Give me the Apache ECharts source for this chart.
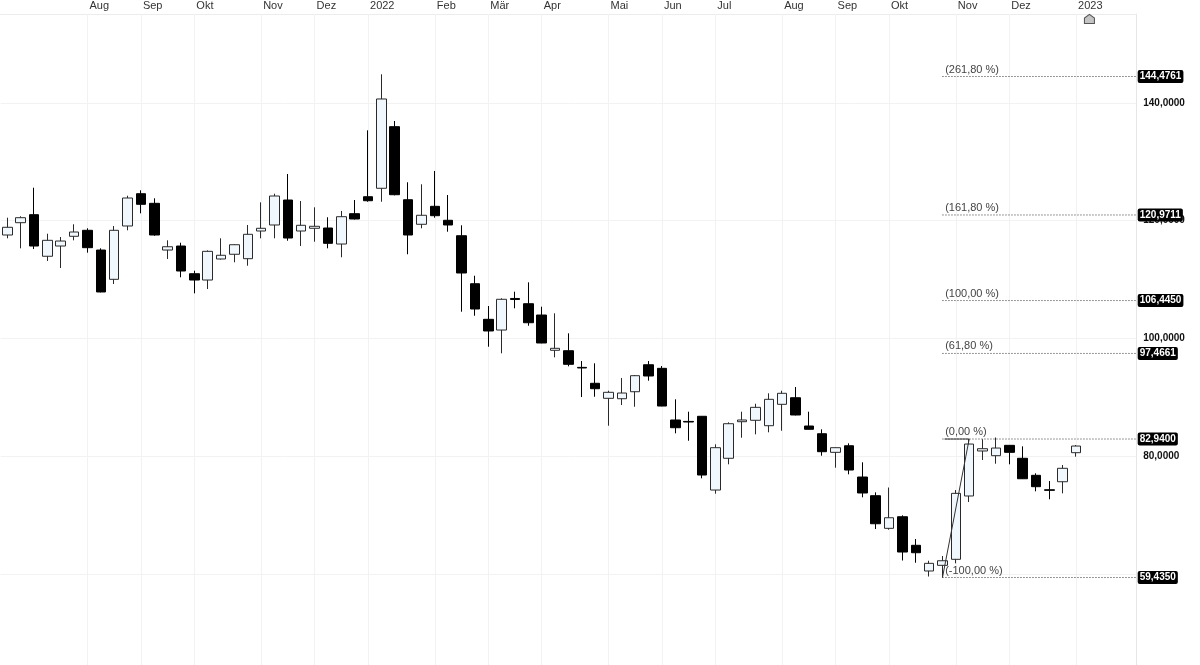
<!DOCTYPE html>
<html>
<head>
<meta charset="utf-8">
<script src="https://cdn.jsdelivr.net/npm/echarts@6/dist/echarts.min.js"></script>
<style>
  html, body { margin: 0; background: #fff; }
  #chart { width: 1200px; height: 665px; }
</style>
</head>
<body>
<div id="chart"></div>
<script>
// weekly candles, first week ends 2021-06-26
const opens  = [117.57,119.66,121.02,113.96,115.70,117.35,118.37,115.02,110.05,119.10,
                124.58,122.95,115.02,115.70,111.00,109.93,113.50,114.30,113.55,118.25,
                119.27,123.51,118.25,118.71,118.76,116.04,121.19,124.07,125.50,135.96,
                123.56,119.39,122.44,120.07,117.45,109.30,103.26,101.44,106.80,105.91,
                103.99, 98.00, 97.93, 95.10, 92.40, 89.85, 89.78, 90.97, 95.55, 94.94,
                 86.17, 85.93, 86.80, 74.28, 79.67, 85.88, 86.12, 85.20, 88.83, 89.95,
                 85.15, 83.84, 80.68, 81.80, 76.49, 73.32, 67.78, 69.75, 64.90, 60.54,
                 61.50, 62.52, 73.27, 80.91, 80.11, 81.87, 79.67, 76.78, 74.33, 75.69,
                 80.62]
const closes = [118.88,120.51,115.70,116.67,116.55,118.08,115.42,107.90,118.37,123.85,
                122.78,117.57,115.58,111.46,109.93,114.80,114.13,115.92,117.69,118.71,
                124.19,117.06,119.22,119.05,116.16,120.68,120.29,123.39,140.66,124.41,
                117.57,120.92,120.85,119.27,111.12,105.01,101.28,106.66,106.62,102.68,
                 99.24, 98.34, 95.62, 95.00, 91.48, 90.87, 90.75, 93.69, 93.64, 88.54,
                 84.86, 85.83, 76.83, 81.47, 85.54, 86.17, 88.32, 89.68, 90.70, 87.02,
                 84.59, 80.79, 81.47, 77.68, 73.78, 68.56, 69.58, 63.76, 63.64, 61.84,
                 62.28, 73.72, 82.09, 81.30, 81.41, 80.68, 76.20, 74.85, 74.23, 77.97,
                 81.75]
const lows   = [117.01,115.31,115.19,113.16,111.97,116.67,114.57,107.84,109.25,118.37,
                121.25,117.45,113.50,110.39,107.67,108.40,113.40,112.94,112.36,117.01,
                117.01,116.60,115.70,116.43,115.31,113.79,120.20,123.22,123.22,124.30,
                114.30,118.71,120.51,118.13,104.55,103.87, 98.61, 97.49,105.13,102.17,
                 99.19, 96.81, 95.28, 90.07, 90.12, 85.20, 88.71, 88.42, 92.84, 88.50,
                 83.91, 82.65, 76.27, 73.66, 78.65, 83.16, 83.74, 84.08, 84.35, 86.95,
                 84.55, 80.11, 78.07, 76.95, 73.05, 67.66, 67.55, 62.32, 61.94, 59.60,
                 59.435,61.84, 72.25, 79.38, 78.75, 78.65, 76.15, 74.06, 72.71, 73.72,
                 79.94]
const highs  = [120.51,120.75,125.60,117.79,117.23,119.39,118.71,115.31,119.10,124.24,
                125.16,123.80,116.67,116.26,111.51,114.97,117.01,116.00,119.27,123.12,
                124.58,127.93,123.34,122.27,120.58,121.65,123.51,135.34,144.85,136.92,
                126.52,126.18,128.44,124.36,119.22,110.66,105.52,106.83,107.95,109.54,
                105.40,104.28,100.88, 96.18, 95.79, 91.14, 93.30, 93.81, 96.18, 95.33,
                 89.68, 87.58, 86.85, 82.04, 85.78, 87.58, 88.93, 90.70, 91.14, 91.77,
                 87.58, 84.59, 81.50, 82.21, 78.99, 73.89, 74.71, 69.99, 65.97, 62.28,
                 63.08, 74.28, 82.94, 82.90, 83.20, 81.90, 81.70, 77.12, 75.81, 78.53,
                 81.92]

// month labels on the top axis: [week index, text]
const monthTicks = [[6, 'Aug'], [10, 'Sep'], [14, 'Okt'], [19, 'Nov'], [23, 'Dez'], [27, '2022'],
  [32, 'Feb'], [36, 'Mär'], [40, 'Apr'], [45, 'Mai'], [49, 'Jun'], [53, 'Jul'], [58, 'Aug'],
  [62, 'Sep'], [66, 'Okt'], [71, 'Nov'], [75, 'Dez'], [80, '2023']]

// price labels shown on the right axis
const priceTicks = [80, 100, 120, 140]

// fibonacci projection drawn from the low (week 70) to the high (week 72)
const fibLevels = [144.4761, 120.9711, 106.4450, 97.4661, 82.9400, 59.4350]
const fibNames = ['(261,80 %)', '(161,80 %)', '(100,00 %)', '(61,80 %)', '(0,00 %)', '(-100,00 %)']
const fibLowWeek = 70
const fibHighWeek = 72

const totalWeeks = 85
const categories = []
for (let i = 0; i < totalWeeks; i++) {
  const d = new Date(Date.UTC(2021, 5, 26 + i * 7))
  categories.push(d.toISOString().slice(0, 10))
}
const tickMap = {}
monthTicks.forEach(t => { tickMap[t[0]] = t[1] })

const fmt = v => v.toFixed(4).replace('.', ',')
const font = '"Liberation Sans", Arial, sans-serif'

const candles = opens.map((o, i) => [o, closes[i], lows[i], highs[i]])

const chart = echarts.init(document.getElementById('chart'), null, { renderer: 'canvas' })

const fibLines = fibLevels.map(l => ({
  type: 'line',
  xAxisIndex: 1,
  symbol: 'none',
  silent: true,
  z: 4,
  lineStyle: { color: '#333', width: 1, type: [1, 2] },
  data: [[fibLowWeek + 0.5, l], [totalWeeks, l]]
}))

chart.setOption({
  animation: false,
  backgroundColor: '#fff',
  textStyle: { fontFamily: font },
  grid: { left: 0.62, right: 63.8, top: 14, height: 678, outerBoundsMode: 'none' },
  xAxis: [
    {
      type: 'category',
      position: 'top',
      data: categories,
      boundaryGap: true,
      axisLine: { show: true, onZero: false, lineStyle: { color: '#ececec' } },
      axisTick: { show: false },
      splitLine: { show: false },
      axisLabel: {
        interval: (idx) => tickMap[idx] !== undefined,
        formatter: (val, idx) => tickMap[idx] || '',
        align: 'left',
        padding: [0, 0, 0, 2],
        margin: 3,
        fontSize: 11,
        color: '#333',
        fontFamily: font
      }
    },
    { type: 'value', min: 0, max: totalWeeks, show: false }
  ],
  yAxis: {
    type: 'value',
    position: 'right',
    min: 40,
    max: 155.085,
    interval: 20,
    axisLine: { show: true, onZero: false, lineStyle: { color: '#e6e6e6' } },
    axisTick: { show: false },
    splitLine: { lineStyle: { color: '#f2f2f2' } },
    axisLabel: {
      showMaxLabel: false,
      margin: 7,
      fontSize: 10,
      fontWeight: 'bold',
      color: '#111',
      fontFamily: font,
      formatter: v => (priceTicks.indexOf(v) >= 0 ? fmt(v) : '')
    }
  },
  series: [
    {
      type: 'candlestick',
      data: candles,
      barWidth: 10,
      z: 3,
      itemStyle: {
        color: '#f1f8fd',
        color0: '#000',
        borderColor: '#2a2a2a',
        borderColor0: '#000',
        borderWidth: 1
      },
      markLine: {
        silent: true,
        z: 1,
        symbol: 'none',
        label: { show: false },
        lineStyle: { color: '#f2f2f2', width: 1, type: 'solid' },
        data: monthTicks.map(t => ({ xAxis: t[0] }))
      }
    },
    ...fibLines,
    {
      type: 'line',
      xAxisIndex: 1,
      symbol: 'none',
      silent: true,
      z: 5,
      lineStyle: { color: '#333', width: 1 },
      data: [[fibLowWeek + 0.5, fibLevels[5]], [fibHighWeek + 0.5, fibLevels[4]]]
    },
    {
      type: 'line',
      xAxisIndex: 1,
      symbol: 'none',
      silent: true,
      z: 5,
      lineStyle: { color: '#333', width: 1 },
      data: [[fibLowWeek + 0.65, fibLevels[4]], [fibHighWeek + 0.5, fibLevels[4]]]
    },
    {
      type: 'scatter',
      xAxisIndex: 1,
      symbolSize: 1,
      clip: false,
      silent: true,
      z: 6,
      itemStyle: { color: 'rgba(0,0,0,0)', opacity: 1 },
      label: {
        show: true,
        position: 'top',
        align: 'left',
        distance: 1,
        fontSize: 11,
        color: '#444',
        opacity: 1,
        fontFamily: font
      },
      data: fibLevels.map((l, i) => ({
        value: [fibLowWeek + 0.7, l],
        label: { formatter: fibNames[i] }
      })),
      markPoint: {
        silent: true,
        symbol: 'path://M5,0 L10,4 L10,10 L0,10 L0,4 Z',
        symbolSize: [10, 9],
        itemStyle: { color: '#c4c4c4', borderColor: '#555', borderWidth: 1, opacity: 1 },
        label: { show: false },
        data: [{ coord: [81.5, 154.24] }]
      }
    },
    {
      type: 'scatter',
      xAxisIndex: 1,
      symbolSize: 1,
      clip: false,
      silent: true,
      z: 10,
      itemStyle: { color: 'rgba(0,0,0,0)', opacity: 1 },
      label: {
        show: true,
        position: 'right',
        distance: 1,
        fontSize: 10,
        fontWeight: 'bold',
        color: '#fff',
        backgroundColor: '#000',
        borderRadius: 2,
        padding: [2, 2, 1, 2],
        opacity: 1,
        fontFamily: font
      },
      data: fibLevels.map(l => ({ value: [totalWeeks, l], label: { formatter: fmt(l) } }))
    }
  ]
})
</script>
</body>
</html>
